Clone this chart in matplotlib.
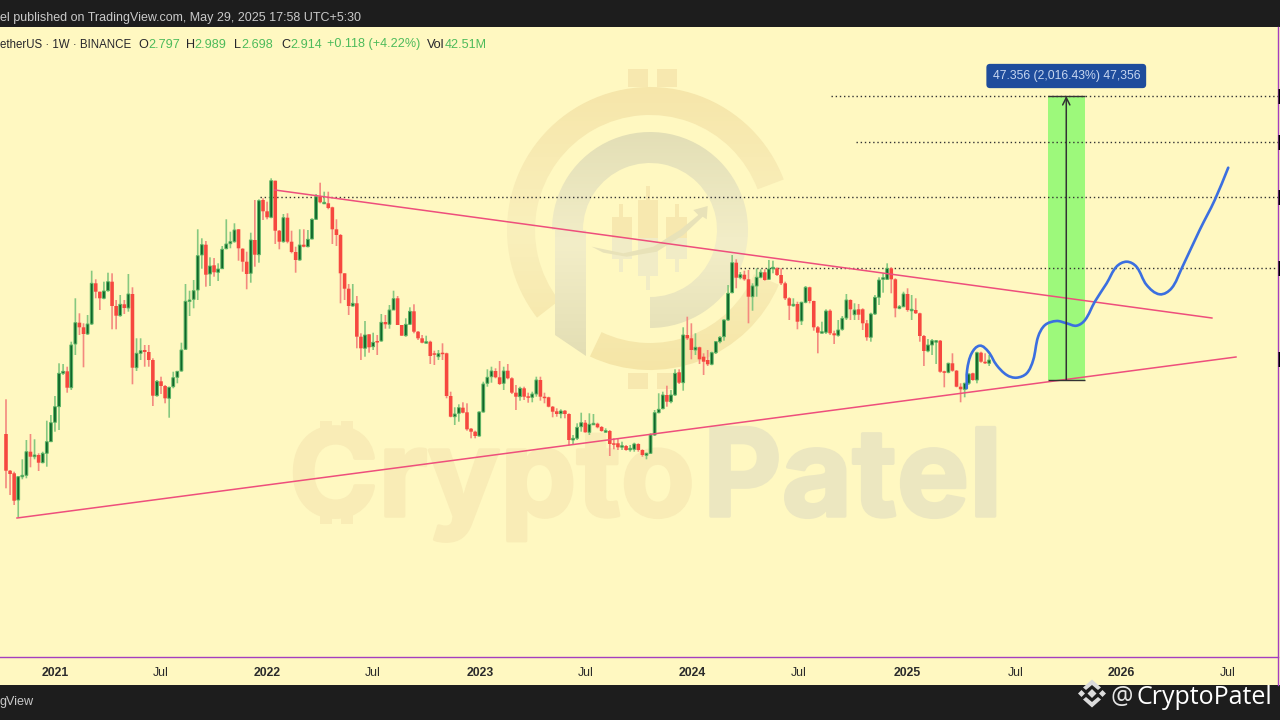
import numpy as np
import matplotlib
matplotlib.use("Agg")
import matplotlib.pyplot as plt
import matplotlib.patheffects as pe
from matplotlib.colors import LinearSegmentedColormap
from matplotlib.patches import Wedge, Rectangle, Polygon, PathPatch
from matplotlib.path import Path

# Weekly candles. Levels are screen rows of the log price
# axis (smaller = higher price), x is the week number from the first candle.
body_top = [
    434, 470.7, 473.3, 476.7, 475.3, 451.7, 451.7, 455, 455, 453.3,
    441.7, 422.7, 406.7, 373.3, 371.3, 371.3, 345, 322.7, 322.7, 327.3,
    324, 283.3, 283.3, 291.7, 291, 281.7, 281.7, 306, 304.3, 304.3,
    294, 294, 353.3, 350.7, 350, 352, 360, 381.3, 381.3, 386,
    387.3, 377.7, 371.3, 350, 301.3, 300, 290.7, 255.7, 244.7, 244.7,
    266, 265.3, 269, 249.3, 244, 241.7, 230, 229.3, 248.7, 261.7,
    240, 240, 200.7, 200, 211.3, 180.7, 180.7, 230.7, 217.7, 217.7,
    241.7, 252, 245, 244.7, 239.3, 219.3, 196.7, 196.7, 202.3, 203.3,
    207.3, 229.3, 235, 273.3, 288.7, 303.3, 303.3,
    336.7, 335, 334.3, 342.3, 341, 322.3, 322, 310, 298.7, 298.3,
    325, 324.3, 311.3, 311.3, 331.7, 338.3, 341.7, 341.7, 353.3, 353.7,
    352.7, 353.3, 396, 414, 407.7, 407.7, 412.3, 428.7, 431.7, 412,
    384, 377.3, 371, 371, 377.3, 371, 370.7, 378.3, 392.7, 388.3,
    388.3, 396.3, 394, 380, 380, 396.7, 397.3, 406.7, 411.3, 411,
    410.7, 414, 438.3, 427.3, 422.7, 422.7, 424.3, 423.3, 423.7, 427,
    430.7, 431, 443.3, 443.3, 445.7, 446, 448.3, 444, 444, 450,
    453.3, 435, 412.7, 409.3, 395, 395, 395, 373.3,
    372.3, 335, 335, 338.3, 347.3, 347.3, 356.7, 360, 352.7, 341.7,
    337.3, 320, 293.3, 262.7, 262.7, 274.7, 274.7, 279.3, 286, 277.3,
    272.3, 272.3, 269, 267.3, 268.3, 275, 283.3, 298.3, 304.3, 304,
    302.3, 287.3, 287.3, 301, 327.3, 331.7, 311, 310.7, 333.3, 330,
    318.3, 300, 300, 310, 309.3, 309.3, 323.3, 314, 297.3, 280,
    277.7, 268.3, 268.3, 279.3, 306.7, 294, 294, 309.3, 310, 313.3,
    336, 345, 340.7, 340.7, 340.7, 371.3, 363.3, 363.3, 370.7, 386.7,
    383.3, 374, 373.3, 352.7, 352.7, 361.7, 360,
]
body_bot = [
    470.7, 474, 500.7, 500, 476.7, 475.3, 456.7, 456.7, 462.7, 462.7,
    453.3, 441.7, 422.3, 406.7, 373.3, 387.7, 387.7, 344, 327.3, 334,
    334, 324, 291.7, 298.3, 298.3, 290.7, 306, 315.7, 315.7, 308,
    308, 367.7, 367.7, 353.3, 352, 360, 395.7, 395.7, 386, 398.3,
    398.3, 386.7, 377.3, 371, 349.3, 301.3, 299.3, 290, 255, 274.7,
    274, 272.3, 272.3, 268.7, 248.7, 243.7, 241.7, 248.3, 261.7, 274,
    273.3, 254.7, 254.7, 211.3, 217.3, 217.3, 230.7, 241.7, 241.7, 241.7,
    252, 260, 260, 246.7, 246.7, 239, 219.3, 202.3, 203.3, 208,
    229.3, 235, 273.3, 288.7, 306, 306, 336.7,
    348.3, 348.3, 347.3, 346.7, 342, 341, 324.3, 324.3, 310, 325,
    335.7, 335.7, 324.3, 331.7, 338.3, 342.7, 342.7, 356, 354, 356.7,
    353.3, 396, 416.7, 416.7, 413.3, 412.7, 429.3, 431.7, 436, 436,
    412, 383.3, 376.7, 377.3, 384, 383.3, 378.3, 392.7, 396.7, 396.7,
    396.7, 397.3, 397.3, 394, 396.7, 397.3, 406.7, 411.7, 414, 413.7,
    414, 440, 440, 438.3, 426.7, 432.3, 432.3, 424.3, 427.3, 431,
    431.7, 444, 444.7, 447.3, 446.7, 450, 449.3, 449.3, 450, 455,
    455.3, 453.3, 435, 412.7, 408.7, 401.7, 401.7, 395,
    382.7, 382.7, 338.3, 350, 350, 359.3, 361.7, 364.3, 364.3, 352.7,
    341.7, 336.7, 320, 292.7, 277.7, 277.7, 279.3, 296.7, 296.7, 286,
    277.3, 280, 279.3, 268.3, 275, 283.3, 298.3, 305.7, 305.7, 321.7,
    321, 302.3, 301, 327.3, 332.7, 332.7, 332.3, 333.3, 335.3, 335.3,
    329.3, 318, 309.3, 314.7, 314.7, 323.3, 337.3, 337.3, 314, 297.3,
    279.3, 279.3, 279.3, 308.3, 308.3, 306.7, 310, 310, 313.3, 336,
    351, 351, 345, 341.3, 371.7, 372.3, 372.3, 370.7, 386.7, 389.3,
    389.3, 383.3, 380, 380, 361.7, 363.3, 363.3,
]
highs = [
    399.3, 470, 471.7, 476, 459.3, 440, 434, 439.3, 453.3, 451.7,
    420.7, 415, 396, 363.3, 364, 366.7, 341.7, 298.3, 313.3, 323.3,
    315, 270.7, 279.3, 291.7, 281.7, 272.7, 273.3, 300, 295, 300,
    274, 287.3, 338.3, 338.3, 345, 345, 358.3, 380, 376.7, 385,
    386.7, 371.7, 371.3, 342.7, 284, 290.7, 280, 229.3, 238.3, 241,
    257.3, 258, 263.3, 246, 219.3, 231.7, 223.3, 229.3, 248.3, 251.7,
    232.7, 200, 199.3, 198.3, 201.7, 178.3, 180.7, 230, 214, 213.3,
    230.7, 246.7, 229.3, 229.3, 230, 218.3, 194, 182.7, 191.7, 191.7,
    206.7, 219.3, 234, 273.3, 284, 284, 296,
    333.3, 321, 334.3, 332.7, 335, 314, 315, 305, 290.7, 296,
    325, 318.3, 307.3, 304.3, 331, 335, 335.7, 340.7, 350.7, 350,
    343.3, 352.7, 391.7, 407.3, 404.3, 402.3, 403.3, 428, 430.7, 411.3,
    381.7, 369.3, 366.7, 368.3, 361, 366.7, 364, 377.3, 385, 386.7,
    386.7, 392.7, 391.7, 376.7, 376.7, 392.7, 396.7, 406, 408.3, 409.3,
    410, 413.3, 435, 423.3, 412.7, 420, 413.3, 414, 422.7, 426,
    428.3, 430, 438.3, 438.3, 441.7, 445, 445, 442.7, 443.3, 449.3,
    452.7, 433.3, 410, 393.3, 391.7, 385.7, 390, 369.3,
    369.3, 327.3, 316.7, 323.3, 333.3, 346.7, 353.3, 350, 351.7, 341,
    336, 319.3, 285, 255, 259.3, 272, 270.7, 270, 283.3, 268.3,
    269.3, 269.3, 260, 260.7, 267.3, 268.3, 281.7, 297.3, 298.3, 301.7,
    301.7, 286, 286.7, 300.7, 326, 321.7, 309.3, 309.3, 330.7, 320,
    316, 294, 299.3, 303.3, 304, 308.3, 320, 312.7, 295, 277.3,
    273.3, 263.3, 267.3, 278.3, 305, 291.7, 288.3, 295, 298.3, 312.7,
    335, 339, 339, 340, 340, 370.7, 362.7, 353.3, 370, 383.3,
    382.7, 373.3, 372.7, 351.7, 351.7, 353.3, 355,
]
lows = [
    488.3, 495, 505, 517.3, 479.3, 478.3, 467.3, 459.3, 471, 463.3,
    466.7, 441.7, 431.7, 430, 375, 392.7, 390, 355, 335, 367.3,
    335, 325, 298.3, 310, 299.3, 291.7, 329.3, 329.3, 316.7, 314,
    311.7, 384.3, 371, 360, 366.7, 366.7, 406, 396.7, 394, 403.3,
    417.7, 388.3, 383.3, 371.7, 350, 316, 308.3, 300, 268.7, 286.7,
    286, 276.7, 281, 269, 249.3, 248.3, 242.7, 260.7, 271.7, 289.3,
    282.7, 266.7, 262.7, 220, 219.3, 218.3, 244, 249.3, 242.7, 243.3,
    253.3, 272.7, 260.7, 247.3, 247.3, 239.3, 220, 203.3, 204, 209.3,
    244, 246, 303.3, 300, 315, 306.7, 348.3,
    360, 356.7, 352.7, 350, 355, 341.7, 328.7, 328.7, 310, 325,
    335.7, 336.7, 325, 333.3, 340, 343.3, 343.3, 364, 365, 360,
    360, 398.3, 417.3, 425, 421.7, 413.3, 430.7, 438.3, 438.3, 436.7,
    412.7, 386.7, 382.7, 378.3, 385, 390, 379.3, 394, 410, 400.7,
    400, 402.7, 402.3, 396.7, 400.7, 403.3, 407.3, 417.3, 416.7, 418.3,
    418.3, 445.3, 445, 440, 431.7, 432.7, 435, 425, 428.3, 431.7,
    432.7, 456, 449.3, 450, 450, 450.7, 451.7, 451.7, 451.7, 456.7,
    459.3, 454, 436, 413.3, 409.3, 406.7, 403.3, 396,
    384, 390.7, 340, 359.3, 355, 364, 375, 366, 365.3, 354,
    343.3, 340.7, 321, 293.3, 288.3, 279.3, 280.7, 323.3, 310.7, 296.7,
    278.3, 280.7, 280, 273.3, 276, 285, 300, 320, 306.7, 329.3,
    325, 303.3, 303.3, 330.7, 353.3, 333.3, 334, 335, 344, 336.7,
    330.7, 320, 320, 320, 320, 330, 340.7, 341.7, 315, 305,
    292.7, 280, 293.3, 317.3, 309.3, 307.3, 311.7, 320, 314, 341.7,
    366, 352.3, 355, 364, 372.7, 387.3, 373.3, 371.7, 387.3, 402.3,
    397.3, 385, 380.7, 383.3, 362.7, 364, 366,
]
sides = ("RRRGGGRGRG" "GGGGGRGGRR" "GGRRGGRRGR" "GRGGRRRGRR" "GGGGGGGGGR"
         "GRGGGGGRRR" "GRGRRGRRGR" "RRGRGGGRGR" "RRRRRGR"
         "RGRGRGRGGR" "RGGRRRGRRG" "RRRGGRRRRG" "GGGRRGRRRG" "RRGGRRRRRG"
         "RRGGGRGGRR" "GRRRGRGGRR" "GGGGGRGG"
         "RGRRGRRRGG" "GGGGRGRRGG" "GRGGRRRRGR" "GGRRRGGRRG" "GGRGRRRGGG"
         "GGRRGGRGRR" "RGGGRRGRRR" "GGRGRRG")

# projected path
path_weeks = [235.5, 235.6, 236.7, 238.7, 240.8, 242.8, 245.3, 247.7, 250.2, 251.8,
              253, 254.7, 257.5, 260, 262.4, 264.5, 266.9, 269.8, 272.2, 274.7,
              277.1, 279.6, 282.8, 285.7, 288.2, 292.6, 296.3, 299.6]
path_levels = [388.3, 370, 353.3, 345.7, 351.7, 365, 375, 377.7, 373.3, 360,
               336.7, 325, 321, 323.3, 325.7, 320, 301.7, 283.3, 266.7, 261.7,
               266.7, 285, 294.3, 288.3, 268.3, 230, 200, 167.7]

# trend lines and dotted targets
upper_weeks = [65.9, 295.6]
upper_levels = [190, 318]
lower_weeks = [2.7, 301.5]
lower_levels = [518, 357]
target_levels = [96, 142, 197, 268]
target_starts = [202.2, 208.3, 62.3, 179.9]

# measure box
box_weeks = [255.4, 264.5]
box_levels = [96, 380]
measure_week = 259.9

tick_weeks = [12, 38, 64, 90, 116.2, 142.2, 168.1, 194.4, 221, 247.5, 273.5, 299.5]
tick_labels = ["2021", "Jul", "2022", "Jul", "2023", "Jul", "2024", "Jul", "2025", "Jul", "2026", "Jul"]
price_marks = [96, 142, 197, 268, 359]

BG = "#FFF8C1"
DARK = "#1D1D1D"
TAN = "#F7E8AF"
GREY = "#E8E2B8"
PINK = "#EE4F7C"
PURPLE = "#A43FC0"
WEEK_PX = 4.08


def smooth(xs, ys):
    # spline through the read points, tangents taken in screen proportions
    pts = np.column_stack([np.array(xs) * WEEK_PX, ys])
    verts = [pts[0]]
    codes = [Path.MOVETO]
    for i in range(len(pts) - 1):
        p0 = pts[max(i - 1, 0)]
        p1 = pts[i]
        p2 = pts[i + 1]
        p3 = pts[min(i + 2, len(pts) - 1)]
        seg = np.linalg.norm(p2 - p1)
        t1 = (p2 - p0) / np.linalg.norm(p2 - p0)
        t2 = (p3 - p1) / np.linalg.norm(p3 - p1)
        verts += [p1 + t1 * seg / 3, p2 - t2 * seg / 3, p2]
        codes += [Path.CURVE4] * 3
    verts = np.array(verts)
    verts[:, 0] /= WEEK_PX
    return Path(verts, codes)


def shade(axes, patch, colors, row0, row1):
    # vertical fade clipped to a patch
    cmap = LinearSegmentedColormap.from_list("fade", colors)
    im = axes.imshow(np.linspace(0, 1, 64)[:, None], extent=(480, 820, row1, row0), cmap=cmap,
                     aspect="auto", zorder=1)
    patch.set_visible(False)
    axes.add_patch(patch)
    im.set_clip_path(patch)


fig = plt.figure(figsize=(12.8, 7.2), dpi=100, facecolor=BG)
plt.rcParams["font.family"] = ["Liberation Sans", "DejaVu Sans"]

# back layer in pixels: watermark and the dark bars
bg = fig.add_axes([0, 0, 1, 1], zorder=0)

tan_fade = ["#F6E6AA", "#FAF0BC", "#F5E5A6"]
grey_fade = ["#E3DFB6", "#F3EEC8", "#E3DEB4"]
shade(bg, Wedge((650, 230), 143, -217.8, -20.7, width=28), tan_fade, 85, 375)
shade(bg, Wedge((650, 230), 140, 23, 115.4, width=27), tan_fade, 85, 375)
shade(bg, Wedge((650, 230), 98, -180, 90, width=31), grey_fade, 132, 356)
shade(bg, Polygon([(555, 230), (586, 230), (586, 356), (555, 335)]), grey_fade, 132, 356)
bg.set_xlim(0, 1280)
bg.set_ylim(720, 0)
bg.axis("off")

for x0 in (628, 657):
    bg.add_patch(Rectangle((x0, 69), 20, 18, color=TAN, lw=0))
    bg.add_patch(Rectangle((x0, 373), 20, 16, color=TAN, lw=0))
for left, mid_x, top, bot, wtop, wbot in [(611.7, 621.3, 217.3, 259.3, 204, 271.7),
                                          (637.7, 648, 200, 276, 186, 290),
                                          (666, 677, 216.7, 259.3, 204, 271.7)]:
    split = (top + bot) / 2
    bg.add_patch(Rectangle((left, top), 20.5, split - top, color=TAN, lw=0))
    bg.add_patch(Rectangle((left, split), 20.5, bot - split, color="#F1ECC6", lw=0))
    bg.add_patch(Rectangle((mid_x - 2, wtop), 4, split - wtop, color=TAN, lw=0))
    bg.add_patch(Rectangle((mid_x - 2, split), 4, wbot - split, color="#F1ECC6", lw=0))
bg.add_patch(Polygon([(591.7, 246.7), (623.3, 253.3), (653.3, 246.7), (680, 230), (698.3, 215),
                      (693.3, 210), (707.7, 206), (706.7, 219.3), (702.7, 216.7), (683.3, 235),
                      (656.7, 251.7), (626.7, 256.7), (603.3, 252.7)], color=GREY, lw=0, zorder=2))
bg.text(289, 516, "Crypto", fontsize=87, fontweight="bold", family="Inter", color="#F9ECB6",
        ha="left", va="baseline", zorder=2,
        path_effects=[pe.withStroke(linewidth=2.5, foreground="#F9ECB6")])
bg.text(703, 516, "Patel", fontsize=87.5, fontweight="bold", family="Inter", color="#ECE7C0",
        ha="left", va="baseline", zorder=2,
        path_effects=[pe.withStroke(linewidth=2.5, foreground="#ECE7C0")])
for x0 in (320, 341):
    bg.add_patch(Rectangle((x0, 421), 12, 10, color="#F9ECB6", lw=0, zorder=2))
    bg.add_patch(Rectangle((x0, 514), 12, 10, color="#F9ECB6", lw=0, zorder=2))

bg.add_patch(Rectangle((0, 0), 1280, 27, color=DARK, lw=0, zorder=3))
bg.add_patch(Rectangle((0, 685), 1280, 35, color=DARK, lw=0, zorder=3))
bg.plot([1278, 1278], [27, 685], color=PURPLE, lw=1, zorder=3)

bg.text(0, 17.5, "el published on TradingView.com, May 29, 2025 17:58 UTC+5:30", color="#C9C9C9",
        fontsize=9.0, va="center", ha="left", zorder=4)
bg.text(0, 702.5, "gView", color="#C9C9C9", fontsize=9.1, va="center", ha="left", zorder=4)

UP = "#4DBB5B"
INK = "#26262B"
bg.text(0, 44.5, "etherUS · 1W · BINANCE", color=INK, fontsize=8.3, va="center", ha="left", zorder=4)
for x0, txt, col in [(138, "O", INK), (148, "2.797", UP),
                     (186, "H", INK), (194, "2.989", UP), (234, "L", INK), (241, "2.698", UP),
                     (281, "C", INK), (290, "2.914", UP), (327, "+0.118 (+4.22%)", UP),
                     (427, "Vol", INK), (445, "42.51M", UP)]:
    bg.text(x0, 44.5, txt, color=col, fontsize=9.1, va="center", ha="left", zorder=4)

# footer mark
LOGO = "#DCDCDC"
cx, cy = 1092, 693.5
for dx, r in [(0, 4.5), (-10.5, 3.5), (10.5, 3.5)]:
    bg.add_patch(Polygon([(cx + dx - r, cy), (cx + dx, cy - r), (cx + dx + r, cy), (cx + dx, cy + r)],
                         color=LOGO, lw=0, zorder=5))
for s in (-1, 1):
    bg.add_patch(Polygon([(cx - 9, cy + s * 6), (cx, cy + s * 14), (cx + 9, cy + s * 6), (cx + 6, cy + s * 3.5),
                          (cx, cy + s * 8.5), (cx - 6, cy + s * 3.5)], color=LOGO, lw=0, zorder=5))
bg.text(1111, 697, "@", color="#E6E6E6", fontsize=18, family="Open Sans", va="center", ha="left", zorder=5)
bg.text(1136.5, 697, "CryptoPatel", color="white", fontsize=18, family="Open Sans", va="center", ha="left", zorder=5)

# chart layer
ax = fig.add_axes([0, (720 - 657) / 720, 1278 / 1280, 630 / 720], zorder=1)
ax.patch.set_alpha(0)
ax.set_xlim(-1.47, 311.8)
ax.set_ylim(657, 27)

body_top = np.array(body_top)
body_bot = np.array(body_bot)
highs = np.array(highs)
lows = np.array(lows)
weeks = np.arange(len(body_top))
is_up = np.array([c == "G" for c in sides])

ax.add_patch(Rectangle((box_weeks[0], box_levels[0]), box_weeks[1] - box_weeks[0], box_levels[1] - box_levels[0],
                       color="#9DF97B", lw=0, zorder=1))
ax.hlines(target_levels, target_starts, 311.8, color="#333333", lw=1, linestyles=(0, (1, 2)), zorder=2)

ax.vlines(weeks[is_up], highs[is_up], lows[is_up], color="#86C880", lw=1.2, zorder=3, snap=False)
ax.vlines(weeks[~is_up], highs[~is_up], lows[~is_up], color="#F4897F", lw=1.2, zorder=3, snap=False)
heights = np.maximum(body_bot - body_top, 1.5)
ax.bar(weeks[is_up], heights[is_up], bottom=body_top[is_up], width=0.68, color="#0F662A",
       edgecolor="#5DB565", lw=0.7, zorder=4, snap=False)
ax.bar(weeks[~is_up], heights[~is_up], bottom=body_top[~is_up], width=0.88, color="#F6483F", lw=0, zorder=4,
       snap=False)

ax.plot(upper_weeks, upper_levels, color=PINK, lw=1.1, zorder=5)
ax.plot(lower_weeks, lower_levels, color=PINK, lw=1.1, zorder=5)
ax.add_patch(PathPatch(smooth(path_weeks, path_levels), fc="none", ec="#3B6FE0", lw=1.9, capstyle="round", zorder=6))

ax.hlines(box_levels, box_weeks[0], box_weeks[1], color="#333333", lw=1, zorder=7)
ax.annotate("", xy=(measure_week, box_levels[0]), xytext=(measure_week, box_levels[1]), zorder=7,
            arrowprops=dict(arrowstyle="->", color="#333333", lw=1.1, shrinkA=0, shrinkB=0, mutation_scale=13))
ax.text(measure_week, 76, "47.356 (2,016.43%) 47,356", color="#C6D6F0", fontsize=8.85, ha="center", va="center",
        zorder=8, bbox=dict(boxstyle="round,pad=0.5,rounding_size=0.3", fc="#1E4C9C", ec="none"))

for side in ("top", "left", "right"):
    ax.spines[side].set_visible(False)
ax.spines["bottom"].set_color(PURPLE)
ax.spines["bottom"].set_linewidth(1)
ax.set_xticks(tick_weeks)
ax.set_xticklabels(tick_labels, fontsize=8.8, color="#2B2B2B")
for lab in ax.get_xticklabels():
    if lab.get_text().startswith("20"):
        lab.set_fontweight("bold")
ax.tick_params(axis="x", length=0, pad=7.5)
ax.yaxis.tick_right()
ax.set_yticks(price_marks)
ax.set_yticklabels([])
ax.tick_params(axis="y", length=1.2, width=10.8, color="black", direction="out", pad=0)

fig.savefig("out.png", dpi=100, facecolor=BG)
